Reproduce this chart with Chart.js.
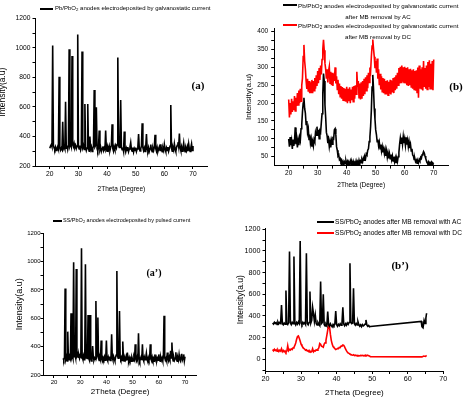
<!DOCTYPE html>
<html>
<head>
<meta charset="utf-8">
<script src="https://cdn.jsdelivr.net/npm/chart.js@4.4.1/dist/chart.umd.min.js"></script>
<style>
  html, body { margin: 0; padding: 0; background: #fff; }
  body { width: 474px; height: 401px; position: relative; overflow: hidden; font-family: "Liberation Sans", Arial, sans-serif; }
  .box { position: absolute; }
  .box canvas { display: block; }
  .lg { position: absolute; white-space: nowrap; color: #000; }
  .sw { position: absolute; }
  .tag { position: absolute; font-family: "Liberation Serif", "Times New Roman", serif; font-weight: bold; white-space: nowrap; transform: translate(-50%, -50%); }
  .s2 { font-size: 0.72em; vertical-align: -0.3em; line-height: 0; }
</style>
</head>
<body>
<div class="box"><canvas id="chartA"></canvas></div>
<div class="box"><canvas id="chartB"></canvas></div>
<div class="box"><canvas id="chartA2"></canvas></div>
<div class="box"><canvas id="chartB2"></canvas></div>

<!-- legends and panel tags -->
<div class="sw" style="left:40px;top:8px;width:13px;height:2px;background:#000"></div>
<div class="lg" style="left:55px;top:5px;font-size:6px;line-height:7px">Pb/PbO<span class="s2">2</span> anodes electrodeposited by galvanostatic current</div>

<div class="sw" style="left:283px;top:4px;width:14px;height:2px;background:#000"></div>
<div class="lg" style="left:298px;top:0px;width:160px;text-align:center;font-size:6.2px;line-height:11px">Pb/PbO<span class="s2">2</span> anodes electrodeposited by galvanostatic current<br>after MB removal by AC</div>
<div class="sw" style="left:283px;top:24px;width:14px;height:2px;background:#f00"></div>
<div class="lg" style="left:298px;top:20px;width:160px;text-align:center;font-size:6.2px;line-height:11px">Pb/PbO<span class="s2">2</span> anodes electrodeposited by galvanostatic current<br>after MB removal by DC</div>

<div class="sw" style="left:53px;top:220px;width:9px;height:1.5px;background:#000"></div>
<div class="lg" style="left:63px;top:217px;font-size:5.5px;line-height:7px">SS/PbO<span class="s2">2</span> anodes electrodeposited by pulsed current</div>

<div class="sw" style="left:317px;top:221px;width:17px;height:2px;background:#000"></div>
<div class="lg" style="left:335px;top:218px;font-size:6.6px;line-height:8px">SS/PbO<span class="s2">2</span> anodes after MB removal with AC</div>
<div class="sw" style="left:317px;top:231.5px;width:17px;height:2px;background:#f00"></div>
<div class="lg" style="left:335px;top:228.5px;font-size:6.6px;line-height:8px">SS/PbO<span class="s2">2</span> anodes after MB removal with DC</div>

<div class="tag" style="left:198px;top:85px;font-size:11px">(a)</div>
<div class="tag" style="left:456px;top:86px;font-size:11px">(b)</div>
<div class="tag" style="left:154px;top:272px;font-size:10px">(a’)</div>
<div class="tag" style="left:400px;top:265px;font-size:11px">(b’)</div>

<script>
// sampling of the 2theta grid
const thetaStep = 0.25;

// (a) Pb/PbO2 galvanostatic, 20..70
const aStart = 20;
const aIntensity = [
  320, 335, 345, 330, 1015, 340, 322, 310, 328, 305, 318, 332, 315, 805, 325, 308, 322, 312, 500, 318,
  330, 315, 635, 320, 338, 312, 340, 990, 335, 350, 332, 945, 345, 330, 352, 325, 340, 318, 335, 1090,
  330, 315, 338, 310, 330, 975, 325, 340, 312, 620, 328, 305, 322, 620, 318, 300, 400, 315, 330, 298,
  320, 335, 715, 330, 340, 597, 318, 302, 325, 440, 310, 328, 300, 318, 332, 305, 322, 310, 440, 315,
  300, 328, 312, 335, 305, 325, 340, 482, 318, 300, 330, 312, 338, 322, 345, 934, 340, 325, 350, 647,
  330, 310, 325, 300, 434, 318, 296, 320, 305, 328, 298, 315, 330, 358, 312, 300, 325, 295, 318, 305,
  325, 298, 315, 330, 417, 320, 302, 318, 335, 490, 325, 305, 322, 298, 330, 417, 315, 302, 325, 300,
  318, 345, 310, 296, 322, 305, 328, 412, 318, 300, 325, 298, 315, 330, 305, 347, 310, 296, 322, 305,
  347, 315, 298, 322, 305, 328, 300, 318, 335, 613, 320, 300, 325, 308, 350, 315, 298, 325, 340, 360,
  330, 420, 325, 305, 330, 300, 320, 355, 310, 296, 322, 305, 330, 300, 348, 312, 298, 325, 350, 305, 335,
];

// (b) after MB removal, AC (black) and DC (red), 20..70
const bStart = 20;
const bAcIntensity = [
  100, 78, 105, 82, 95, 72, 98, 80, 92, 132, 85, 100, 76, 96, 82, 104, 95, 128, 140, 175,
  200, 215, 185, 172, 140, 150, 118, 128, 98, 112, 88, 100, 78, 92, 80, 98, 92, 118, 110, 134,
  108, 125, 100, 122, 118, 145, 170, 225, 283, 262, 195, 160, 118, 108, 88, 98, 78, 92, 76, 95,
  85, 102, 100, 125, 128, 112, 78, 68, 52, 55, 42, 45, 36, 40, 30, 36, 28, 35, 30, 38,
  29, 36, 28, 34, 30, 38, 29, 35, 28, 37, 30, 34, 28, 38, 30, 36, 29, 40, 32, 38,
  33, 42, 36, 46, 40, 50, 45, 58, 55, 68, 72, 92, 105, 135, 180, 245, 279, 240, 185, 155,
  125, 112, 92, 98, 80, 90, 72, 84, 66, 78, 62, 72, 58, 70, 52, 66, 48, 60, 45, 58,
  44, 56, 42, 52, 38, 50, 36, 46, 34, 44, 36, 50, 62, 85, 102, 88, 104, 85, 106, 88,
  100, 82, 104, 84, 96, 78, 92, 74, 84, 66, 72, 55, 52, 42, 45, 36, 40, 32, 38, 33,
  42, 38, 48, 45, 55, 58, 64, 60, 52, 45, 38, 34, 30, 35, 28, 33, 29, 34, 28, 32, 30,
];
const bDcIntensity = [
  210, 160, 200, 168, 212, 175, 205, 180, 220, 178, 215, 192, 228, 195, 235, 200, 240, 205, 250, 270,
  330, 363, 318, 295, 262, 240, 268, 232, 262, 228, 258, 230, 265, 228, 262, 235, 270, 240, 278, 248,
  290, 256, 298, 265, 305, 280, 322, 350, 377, 348, 312, 295, 268, 295, 258, 290, 302, 256, 288, 250,
  285, 248, 282, 262, 300, 255, 275, 238, 265, 225, 255, 218, 248, 212, 245, 208, 242, 205, 240, 204,
  246, 200, 240, 205, 244, 200, 238, 208, 246, 204, 248, 212, 250, 225, 288, 245, 262, 215, 255, 210,
  258, 212, 262, 220, 268, 225, 272, 235, 278, 242, 285, 258, 300, 290, 330, 360, 378, 352, 330, 298,
  318, 285, 325, 268, 295, 250, 282, 238, 275, 232, 270, 228, 268, 226, 262, 224, 264, 222, 260, 226,
  265, 224, 262, 230, 270, 228, 272, 236, 278, 240, 285, 250, 298, 255, 302, 258, 305, 260, 300, 256,
  302, 255, 298, 250, 300, 248, 295, 250, 296, 245, 292, 240, 295, 238, 290, 235, 292, 230, 300, 215,
  305, 240, 295, 238, 300, 235, 318, 245, 298, 240, 305, 238, 315, 245, 320, 240, 310, 238, 318, 236, 322,
];

// (a') SS/PbO2 pulsed current, 23.5..70
const a2Start = 23.5;
const a2Intensity = [
  318, 305, 325, 810, 312, 330, 300, 506, 320, 308, 328, 315, 635, 322, 338, 318, 995, 330, 345, 322,
  948, 335, 348, 325, 340, 318, 338, 330, 1094, 328, 312, 335, 308, 325, 981, 320, 340, 312, 623, 318,
  305, 623, 322, 300, 315, 405, 328, 305, 320, 310, 722, 325, 340, 605, 318, 302, 325, 308, 443, 315,
  300, 322, 310, 328, 305, 318, 443, 312, 300, 325, 308, 330, 302, 318, 487, 322, 305, 330, 312, 298,
  325, 340, 934, 335, 318, 345, 652, 330, 312, 325, 302, 436, 318, 300, 322, 308, 328, 302, 358, 315,
  300, 322, 305, 318, 298, 325, 310, 300, 328, 312, 417, 318, 302, 325, 305, 494, 322, 300, 315, 328,
  305, 417, 312, 298, 325, 308, 320, 353, 310, 296, 322, 305, 318, 417, 312, 300, 325, 305, 318, 298,
  345, 310, 325, 300, 318, 305, 345, 312, 298, 325, 305, 320, 300, 330, 618, 322, 305, 318, 300, 358,
  315, 300, 325, 308, 370, 320, 430, 318, 300, 325, 305, 318, 360, 310, 298, 322, 305, 345, 312, 300,
  325, 350, 305, 318, 345, 300, 330,
];

// (b') SS/PbO2 after MB removal, AC (black) and DC (red), 22..49.5 plus the sparse end
const b2Start = 22;
const b2AcIntensity = [
  335, 325, 342, 330, 338, 322, 345, 328, 340, 332, 500, 328, 318, 335, 325, 634, 330, 320, 338, 994,
  335, 320, 342, 328, 948, 335, 318, 340, 325, 345, 330, 1092, 335, 320, 342, 328, 338, 322, 978, 330,
  318, 340, 625, 335, 360, 480, 420, 350, 409, 330, 318, 340, 325, 312, 717, 330, 340, 600, 322, 308,
  325, 310, 440, 318, 305, 328, 312, 300, 322, 310, 325, 446, 318, 305, 322, 310, 328, 315, 330, 480,
  325, 310, 328, 315, 335, 322, 340, 886, 345, 330, 335, 655, 328, 315, 332, 318, 348, 320, 305, 318,
  302, 320, 308, 315, 325, 363, 318, 305, 312, 300, 302,
];
const b2AcTail = [[63.8, 350], [64.0, 300], [64.3, 290], [64.6, 360], [64.9, 330], [65.1, 380], [65.3, 425]];
const b2DcIntensity = [
  90, 78, 92, 80, 88, 74, 86, 72, 84, 76, 98, 70, 82, 68, 78, 64, 76, 125, 80, 92,
  85, 96, 90, 105, 110, 128, 150, 185, 210, 215, 195, 168, 140, 125, 112, 100, 95, 84, 88, 76,
  80, 68, 75, 66, 72, 98, 70, 80, 76, 88, 84, 95, 105, 145, 138, 120, 118, 112, 140, 152,
  175, 220, 270, 325, 300, 230, 175, 140, 118, 108, 100, 90, 94, 100, 98, 110, 108, 122, 125, 132,
  128, 115, 95, 80, 68, 58, 55, 48, 45, 40, 38, 42, 35, 38, 33, 36, 32, 35, 31, 36,
  34, 37, 32, 35, 30, 38, 34, 38, 32, 30, 24,
];
const b2DcTail = [[64.0, 22], [64.5, 30], [65.0, 26], [65.3, 36]];

// axis ticks
const xMajor = [20, 30, 40, 50, 60, 70];
const xMinor = [25, 35, 45, 55, 65];
const yMajorA = [200, 400, 600, 800, 1000, 1200];
const yMinorA = [300, 500, 700, 900, 1100];
const yMajorB = [50, 100, 150, 200, 250, 300, 350, 400];
const yMinorB = [75, 125, 175, 225, 275, 325, 375];
const yMajorB2 = [0, 200, 400, 600, 800, 1000, 1200];
const yMinorB2 = [-100, 100, 300, 500, 700, 900, 1100];

function toPoints(values, start, tail) {
  const pts = values.map((v, i) => ({ x: start + i * thetaStep, y: v }));
  (tail || []).forEach(([x, y]) => pts.push({ x, y }));
  return pts;
}

function line(data, color, width) {
  return { data, borderColor: color, borderWidth: width, pointRadius: 0, fill: false, tension: 0 };
}

// p.box = canvas rect on page, p.area = wanted chart area [left, top, right, bottom]
function makeChart(canvasId, p) {
  const canvas = document.getElementById(canvasId);
  const box = canvas.parentNode;
  box.style.left = p.box[0] + "px";
  box.style.top = p.box[1] + "px";
  box.style.width = p.box[2] + "px";
  box.style.height = p.box[3] + "px";
  const right = p.box[0] + p.box[2];
  const bottom = p.box[1] + p.box[3];
  const fam = "'Liberation Sans', Arial, sans-serif";

  const axisBase = (major, minor, size, pad) => ({
    afterBuildTicks: (s) => {
      s.ticks = major.concat(minor).sort((a, b) => a - b).map((v) => ({ value: v }));
    },
    ticks: {
      autoSkip: false,
      maxRotation: 0,
      padding: pad,
      color: "#000",
      font: { family: fam, size },
      callback: (v) => (major.includes(v) ? String(v) : ""),
    },
    grid: { drawOnChartArea: false, drawTicks: true, tickLength: 3, color: "#000", lineWidth: 1 },
    border: { display: true, color: "#000", width: 1 },
  });

  return new Chart(canvas, {
    type: "line",
    data: { datasets: p.datasets },
    options: {
      responsive: true,
      maintainAspectRatio: false,
      animation: false,
      events: [],
      layout: { padding: { left: 0, top: p.area[1] - p.box[1], right: right - p.area[2], bottom: 0 } },
      plugins: { legend: { display: false }, tooltip: { enabled: false } },
      scales: {
        x: Object.assign(axisBase(xMajor, xMinor, p.tickSize, 1), {
          type: "linear",
          min: p.xRange[0],
          max: p.xRange[1],
          afterFit: (s) => { s.height = bottom - p.area[3]; },
          title: {
            display: true,
            text: "2Theta (Degree)",
            color: "#000",
            font: { family: fam, size: p.xTitle[1] },
            padding: { top: 0, bottom: bottom - p.xTitle[0] - p.xTitle[1] * 0.6 },
          },
        }),
        y: Object.assign(axisBase(p.yMajor, p.yMinor, p.tickSize, p.yPad), {
          type: "linear",
          min: p.yRange[0],
          max: p.yRange[1],
          afterFit: (s) => { s.width = p.area[0] - p.box[0]; },
          title: {
            display: true,
            text: "Intensity(a.u)",
            color: "#000",
            font: { family: fam, size: p.yTitle[1] },
            padding: { top: p.yTitle[0] - p.box[0] - p.yTitle[1] * 0.6, bottom: 0 },
          },
        }),
      },
    },
  });
}

makeChart("chartA", {
  box: [-3, 10, 219, 186],
  area: [35.5, 18.3, 207.3, 166],
  xRange: [15, 75], yRange: [200, 1200],
  yMajor: yMajorA, yMinor: yMinorA,
  tickSize: 6.7, yPad: 2,
  xTitle: [189, 6.5], yTitle: [3, 8.5],
  datasets: [line(toPoints(aIntensity, aStart), "#000", 1.6)],
});

makeChart("chartB", {
  box: [242, 20, 216, 176],
  area: [274.2, 28.1, 448.2, 165.6],
  xRange: [15, 75], yRange: [25, 410],
  yMajor: yMajorB, yMinor: yMinorB,
  tickSize: 6.5, yPad: 3,
  xTitle: [185, 6.5], yTitle: [248.7, 8],
  datasets: [
    line(toPoints(bDcIntensity, bStart), "#f00", 1.6),
    line(toPoints(bAcIntensity, bStart), "#000", 1.6),
  ],
});

makeChart("chartA2", {
  box: [8, 225, 198, 176],
  area: [43.5, 233.3, 196.8, 375],
  xRange: [16, 74.5], yRange: [200, 1200],
  yMajor: yMajorA, yMinor: yMinorA,
  tickSize: 6, yPad: 0,
  xTitle: [391.7, 8], yTitle: [20, 9],
  datasets: [line(toPoints(a2Intensity, a2Start), "#000", 1.6)],
});

makeChart("chartB2", {
  box: [234, 220, 218, 181],
  area: [265.5, 228.3, 443.3, 371],
  xRange: [20, 70], yRange: [-108, 1209],
  yMajor: yMajorB2, yMinor: yMinorB2,
  tickSize: 7.2, yPad: 2,
  xTitle: [392.7, 8], yTitle: [240.3, 8.5],
  datasets: [
    line(toPoints(b2AcIntensity, b2Start, b2AcTail), "#000", 1.6),
    line(toPoints(b2DcIntensity, b2Start, b2DcTail), "#f00", 1.6),
  ],
});
</script>
</body>
</html>
